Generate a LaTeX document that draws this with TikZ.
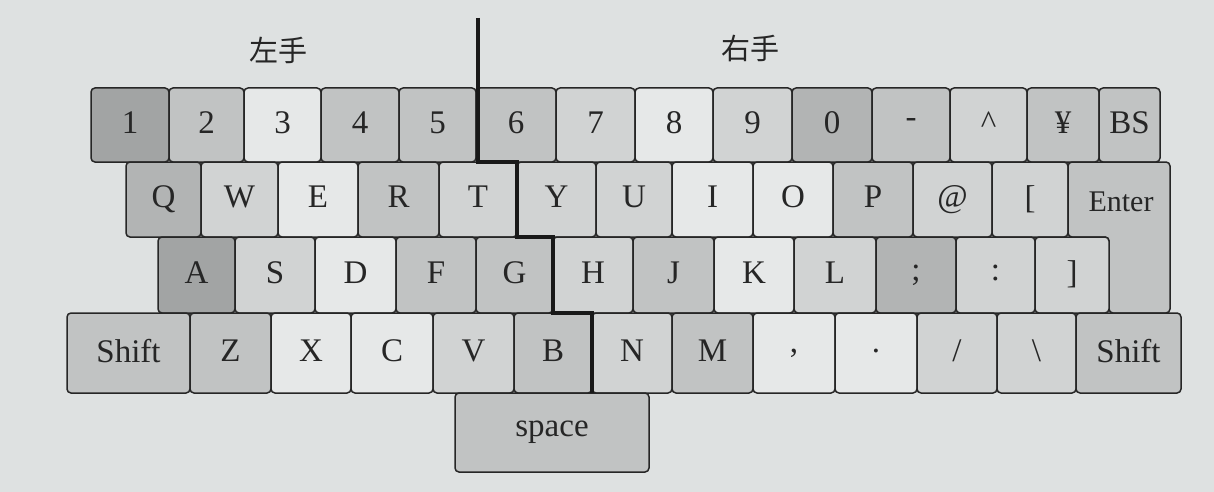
\documentclass[tikz,border=0pt]{standalone}
\usepackage{fontspec}
\setmainfont{Liberation Serif}
\newfontfamily\cjk{Noto Sans CJK SC}
\definecolor{kbg}{RGB}{222,225,225}
\definecolor{kw}{RGB}{230,232,232}
\definecolor{kl}{RGB}{209,211,211}
\definecolor{km}{RGB}{193,195,195}
\definecolor{kd}{RGB}{178,180,180}
\definecolor{kx}{RGB}{162,164,164}
\newcommand\kk[7]{\node[key, fill=#6, minimum width={(#3-#2)*1pt}, minimum height={(#5-#4)*1pt}] (#1) at ({(#2+#3)/2},{(#4+#5)/2}) {\raisebox{5pt}{#7}};}
\begin{document}
\begin{tikzpicture}[x=1pt,y=-1pt,
  key/.style={draw=black!85, line width=1.5pt, rounded corners=4pt, inner sep=0pt,
    font=\fontsize{33}{33}\selectfont, text=black!85},
  keyshape/.style={draw=black!85, line width=1.5pt, rounded corners=4pt},
  divline/.style={line width=3.6pt, draw=black!90},
  hand/.style={font=\cjk\fontsize{29}{29}\selectfont, text=black!85}]
\fill[kbg] (0,0) rectangle (1214,492);
\useasboundingbox (0,0) rectangle (1214,492);
% row 1
\kk{k1}{91}{169}{88}{162}{kx}{1}
\kk{k2}{169}{244}{88}{162}{km}{2}
\kk{k3}{244}{321}{88}{162}{kw}{3}
\kk{k4}{321}{399}{88}{162}{km}{4}
\kk{k5}{399}{476}{88}{162}{km}{5}
\kk{k6}{476}{556}{88}{162}{km}{6}
\kk{k7}{556}{635}{88}{162}{kl}{7}
\kk{k8}{635}{713}{88}{162}{kw}{8}
\kk{k9}{713}{792}{88}{162}{kl}{9}
\kk{k0}{792}{872}{88}{162}{kd}{0}
\kk{kminus}{872}{950}{88}{162}{km}{-}
\kk{kcaret}{950}{1027}{88}{162}{kl}{\textasciicircum}
\kk{kyen}{1027}{1099}{88}{162}{km}{¥}
\kk{kbs}{1099}{1160}{88}{162}{km}{BS}
% row 2
\kk{kQ}{126}{201}{162}{237}{kd}{Q}
\kk{kW}{201}{278}{162}{237}{kl}{W}
\kk{kE}{278}{358}{162}{237}{kw}{E}
\kk{kR}{358}{439}{162}{237}{km}{R}
\kk{kT}{439}{517}{162}{237}{kl}{T}
\kk{kY}{517}{596}{162}{237}{kl}{Y}
\kk{kU}{596}{672}{162}{237}{kl}{U}
\kk{kI}{672}{753}{162}{237}{kw}{I}
\kk{kO}{753}{833}{162}{237}{kw}{O}
\kk{kP}{833}{913}{162}{237}{km}{P}
\kk{kat}{913}{992}{162}{237}{kl}{@}
\kk{klbr}{992}{1068}{162}{237}{kl}{[}
% Enter
\coordinate (e1) at (1068,162);
\coordinate (e2) at (1170,162);
\coordinate (e3) at (1170,313);
\coordinate (e4) at (1109,313);
\coordinate (e5) at (1109,237);
\coordinate (e6) at (1068,237);
\draw[keyshape, fill=km] (e1) -- (e2) -- (e3) -- (e4) -- (e5) -- (e6) -- cycle;
\node[font=\fontsize{30}{30}\selectfont, text=black!85] (kenter) at (1121,202) {Enter};
% row 3
\kk{kA}{158}{235}{237}{313}{kx}{A}
\kk{kS}{235}{315}{237}{313}{kl}{S}
\kk{kD}{315}{396}{237}{313}{kw}{D}
\kk{kF}{396}{476}{237}{313}{km}{F}
\kk{kG}{476}{553}{237}{313}{km}{G}
\kk{kH}{553}{633}{237}{313}{kl}{H}
\kk{kJ}{633}{714}{237}{313}{km}{J}
\kk{kK}{714}{794}{237}{313}{kw}{K}
\kk{kL}{794}{876}{237}{313}{kl}{L}
\kk{ksemi}{876}{956}{237}{313}{kd}{;}
\kk{kcolon}{956}{1035}{237}{313}{kl}{:}
\kk{krbr}{1035}{1109}{237}{313}{kl}{]}
% row 4
\kk{kshl}{67}{190}{313}{393}{km}{Shift}
\kk{kZ}{190}{271}{313}{393}{km}{Z}
\kk{kX}{271}{351}{313}{393}{kw}{X}
\kk{kC}{351}{433}{313}{393}{kw}{C}
\kk{kV}{433}{514}{313}{393}{kl}{V}
\kk{kB}{514}{592}{313}{393}{km}{B}
\kk{kN}{592}{672}{313}{393}{kl}{N}
\kk{kM}{672}{753}{313}{393}{km}{M}
\kk{kcomma}{753}{835}{313}{393}{kw}{,}
\kk{kdot}{835}{917}{313}{393}{kw}{.}
\kk{kslash}{917}{997}{313}{393}{kl}{/}
\kk{kbslash}{997}{1076}{313}{393}{kl}{\textbackslash}
\kk{kshr}{1076}{1181}{313}{393}{km}{Shift}
% space
\kk{kspace}{455}{649}{393}{472}{km}{space}
% divider
\coordinate (d0) at (478,18);
\draw[divline] (d0) -- (478,162) -- (517,162) -- (517,237) -- (553,237) -- (553,313) -- (592,313) -- (592,393);
% hands
\node[hand] (left) at (278,50) {左手};
\node[hand] (right) at (750,48) {右手};
\end{tikzpicture}
\end{document}
